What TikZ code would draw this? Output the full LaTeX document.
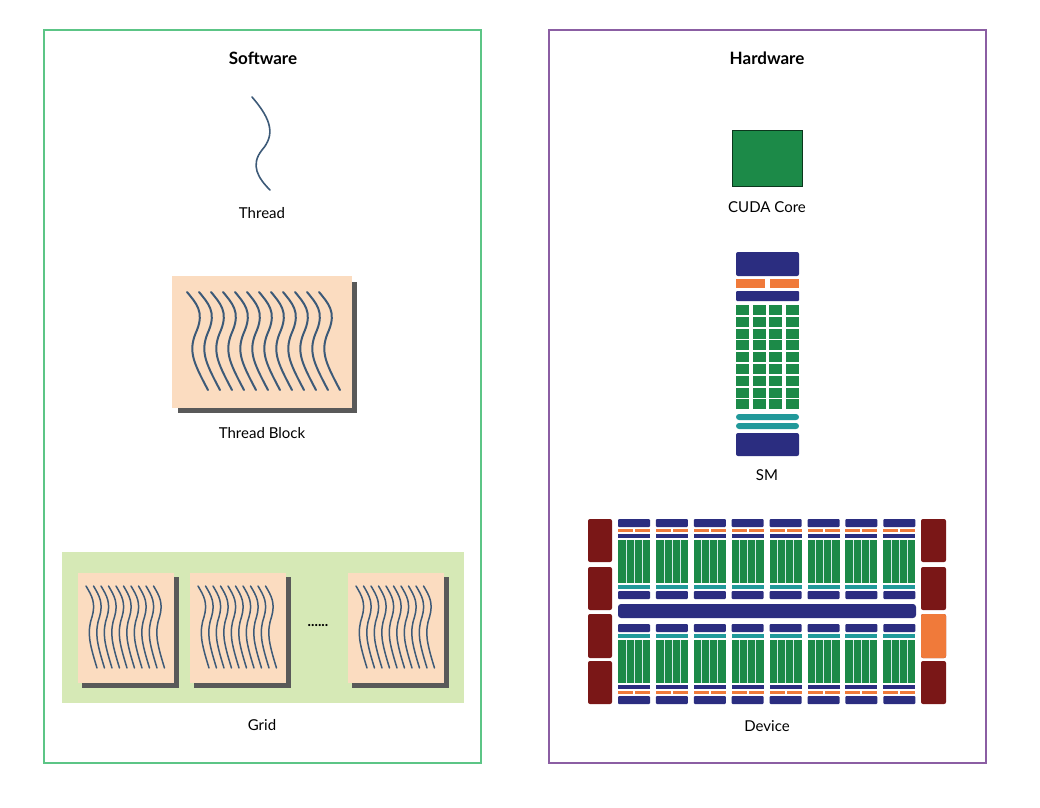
\documentclass[tikz,border=0pt]{standalone}
\usepackage{fontspec}
\setmainfont{Lato}
\usetikzlibrary{calc}
\definecolor{swgreen}{HTML}{5CC586}
\definecolor{hwpurple}{HTML}{8B5EA3}
\definecolor{peach}{HTML}{FBDCC0}
\definecolor{gridgreen}{HTML}{D6E9B6}
\definecolor{threadblue}{HTML}{3D5A78}
\definecolor{navy}{HTML}{2B2D80}
\definecolor{coreorange}{HTML}{F07A3A}
\definecolor{coregreen}{HTML}{1C8A48}
\definecolor{teal}{HTML}{21999A}
\definecolor{maroon}{HTML}{7A1717}

\begin{document}
\begin{tikzpicture}[x=1pt, y=-1pt]
    \tikzstyle{label} = [font=\fontsize{15}{18}\selectfont]
    \tikzstyle{title} = [font=\fontsize{17}{20}\selectfont\bfseries]
    \tikzstyle{thread} = [line width=2pt, threadblue, line cap=round]
    \tikzstyle{blockshadow} = [fill=black!65]
    \useasboundingbox (0,0) rectangle (1040,807);

    % Frames ----------------------------------------
    \draw[swgreen, line width=1.2pt] (44,30) rectangle (481,763);
    \draw[hwpurple, line width=1.2pt] (549,30) rectangle (986,763);
    \node (software) at (263,58) [title] {Software};
    \node (hardware) at (767,58) [title] {Hardware};

    % Thread
    \draw[thread, line width=1.6pt] (252,97) .. controls (272,120) and (275,135) .. (262,150)
        .. controls (250,165) and (258,178) .. (270,190);
    \node (thread) at (262,213) [label] {Thread};

    % Thread block
    \fill[blockshadow] (178,282) rectangle (357,413);
    \fill[peach] (172,276) rectangle (352,408);
    \foreach \x in {0,...,11}
        \draw[thread] ($(187+12*\x,292)$) .. controls ($(197+12*\x,304)$) and ($(204+12*\x,312)$) ..
            ($(197+12*\x,330)$) .. controls ($(188+12*\x,350)$) and ($(192+12*\x,360)$) .. ($(208+12*\x,390)$);
    \node (block) at (262,433) [label] {Thread Block};

    % Grid
    \fill[gridgreen] (62,552) rectangle (464,703);
    \foreach \bx in {78,190,348} {
        \fill[blockshadow] ($(\bx+4,577)$) rectangle ($(\bx+101,688)$);
        \fill[peach] ($(\bx,573)$) rectangle ($(\bx+96,683)$);
        \foreach \x in {0,...,9}
            \draw[thread, line width=1.5pt] ($(\bx+8+7.5*\x,586)$) .. controls ($(\bx+14+7.5*\x,596)$) and ($(\bx+18+7.5*\x,603)$) ..
                ($(\bx+14+7.5*\x,617)$) .. controls ($(\bx+9+7.5*\x,632)$) and ($(\bx+11+7.5*\x,642)$) .. ($(\bx+19+7.5*\x,668)$);
    }
    \node (dots) at (318,626) [font=\bfseries\Large] {......};
    \node (grid) at (262,725) [label] {Grid};
    % ---------------------------------------------------

    % CUDA core
    \draw[fill=coregreen, draw=black!60!coregreen] (732,130) rectangle (802,186);
    \node (core) at (767,207) [label] {CUDA Core};

    % SM
    \fill[navy, rounded corners=2pt] (736,252) rectangle (799,276);
    \fill[coreorange] (736,279) rectangle (765,288);
    \fill[coreorange] (770,279) rectangle (799,288);
    \fill[navy, rounded corners=1pt] (736,291) rectangle (799,301);
    \foreach \c in {0,...,3}
        \foreach \r in {0,...,8}
            \fill[coregreen] ($(736+16.5*\c,305+11.8*\r)$) rectangle ($(736+16.5*\c+13,305+11.8*\r+10)$);
    \fill[teal, rounded corners=3pt] (736,414) rectangle (799,420);
    \fill[teal, rounded corners=3pt] (736,423) rectangle (799,429);
    \fill[navy, rounded corners=2pt] (736,433) rectangle (799,456);
    \node (sm) at (767,475) [label] {SM};

    % Device
    \foreach \y/\h in {519/562, 567/610, 614/658, 661/704} {
        \fill[maroon, rounded corners=2pt] (588,\y) rectangle (612,\h);
        \fill[maroon, rounded corners=2pt] (921,\y) rectangle (946,\h);
    }
    \fill[coreorange, rounded corners=2pt] (921,614) rectangle (946,658);
    \fill[navy, rounded corners=3pt] (618,604) rectangle (916,618);
    \foreach \i in {0,...,7} {
        \pgfmathsetmacro\sx{618+37.9*\i}
        % upper SM
        \fill[navy, rounded corners=1pt] (\sx,519) rectangle (\sx+32,527);
        \fill[coreorange] (\sx,529) rectangle (\sx+15,532);
        \fill[coreorange] (\sx+17,529) rectangle (\sx+32,532);
        \fill[navy] (\sx,534) rectangle (\sx+32,538);
        \fill[coregreen] (\sx,540) rectangle (\sx+32,583);
        \foreach \c in {1,2,3}
            \draw[white!80!teal, line width=0.8pt] (\sx+8*\c,540) -- (\sx+8*\c,583);
        \fill[teal] (\sx,585) rectangle (\sx+32,589);
        \fill[navy, rounded corners=1pt] (\sx,591) rectangle (\sx+32,599);
        % lower SM
        \fill[navy, rounded corners=1pt] (\sx,624) rectangle (\sx+32,632);
        \fill[teal] (\sx,634) rectangle (\sx+32,638);
        \fill[coregreen] (\sx,640) rectangle (\sx+32,683);
        \foreach \c in {1,2,3}
            \draw[white!80!teal, line width=0.8pt] (\sx+8*\c,640) -- (\sx+8*\c,683);
        \fill[navy] (\sx,685) rectangle (\sx+32,689);
        \fill[coreorange] (\sx,691) rectangle (\sx+15,694);
        \fill[coreorange] (\sx+17,691) rectangle (\sx+32,694);
        \fill[navy, rounded corners=1pt] (\sx,696) rectangle (\sx+32,704);
    }
    \node (device) at (767,726) [label] {Device};
\end{tikzpicture}
\end{document}
